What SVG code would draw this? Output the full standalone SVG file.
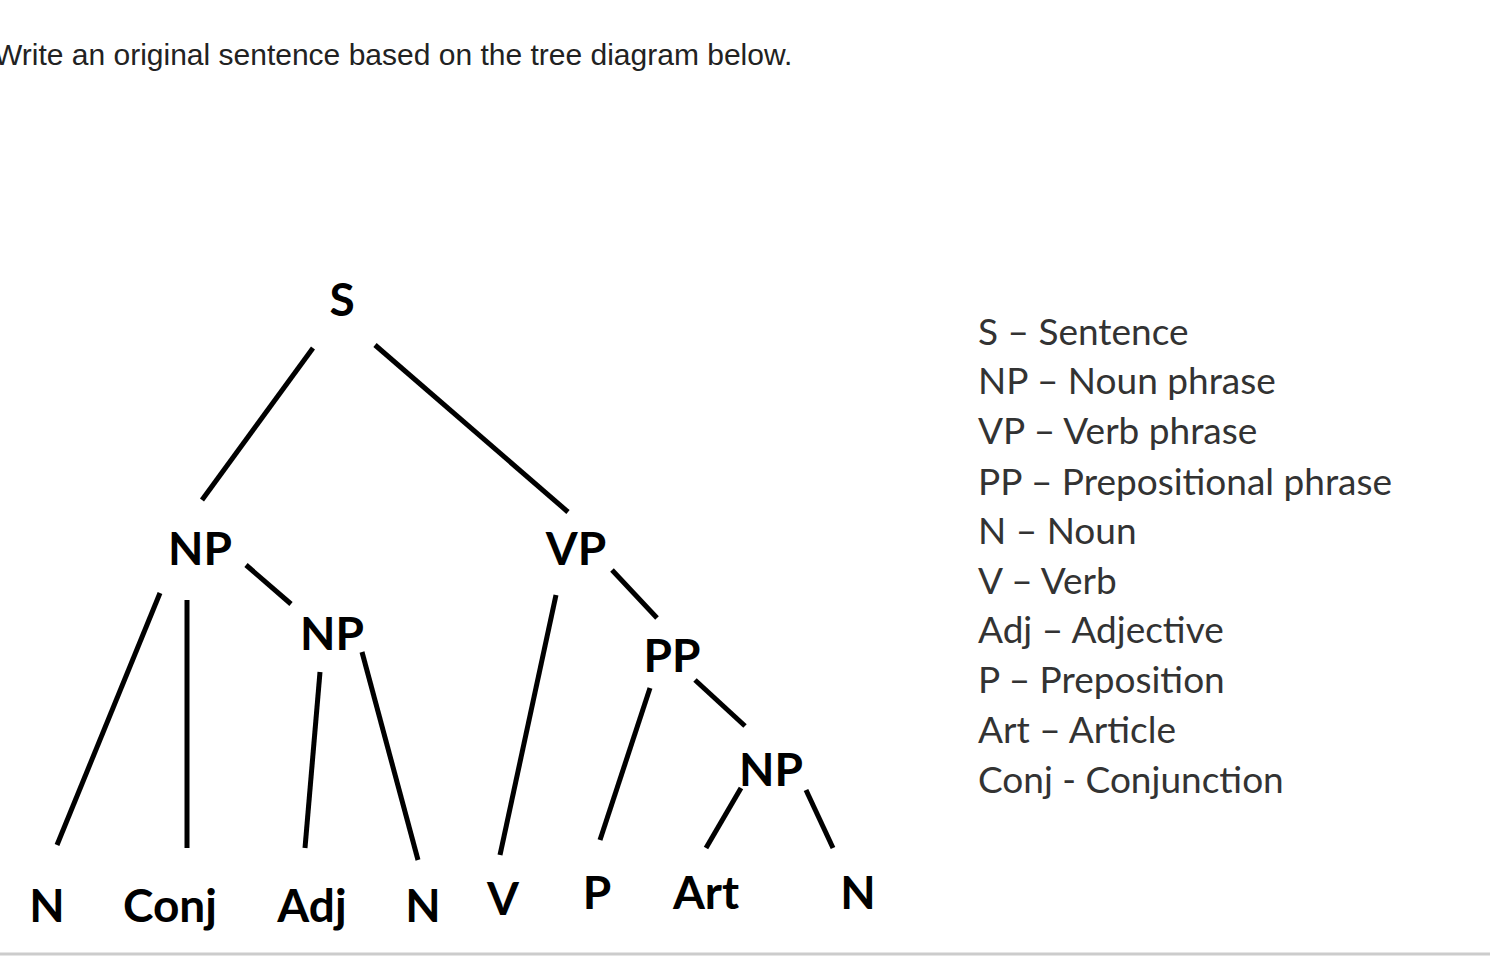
<svg xmlns="http://www.w3.org/2000/svg" width="1490" height="958" viewBox="0 0 1490 958">
<style>
.t{font-family:Lato,"Liberation Sans",sans-serif;font-weight:bold;font-size:46px;fill:#000;text-anchor:middle}
.l{font-family:Lato,"Liberation Sans",sans-serif;font-size:37px;fill:#333}
.e line{stroke:#000;stroke-width:5;stroke-linecap:butt}
</style>
<rect width="1490" height="958" fill="#fff"/>
<text x="-6" y="65" font-family="Liberation Sans,Arial,sans-serif" font-size="30" fill="#222">Write an original sentence based on the tree diagram below.</text>
<g class="e" id="connectors">
<line x1="313" y1="348" x2="202" y2="500"/>
<line x1="375" y1="345" x2="568" y2="512"/>
<line x1="160" y1="593" x2="57" y2="845"/>
<line x1="187" y1="600" x2="187" y2="848"/>
<line x1="246" y1="565" x2="291" y2="604"/>
<line x1="320" y1="672" x2="305" y2="848"/>
<line x1="362" y1="652" x2="418" y2="860"/>
<line x1="556" y1="595" x2="500" y2="855"/>
<line x1="612" y1="570" x2="657" y2="618"/>
<line x1="650" y1="688" x2="600" y2="840"/>
<line x1="695" y1="680" x2="745" y2="726"/>
<line x1="741" y1="788" x2="706" y2="848"/>
<line x1="806" y1="790" x2="833" y2="848"/>
</g>
<g id="S"><text class="t" x="342" y="316">S</text></g>
<g id="NP1"><text class="t" x="200" y="565">NP</text></g>
<g id="VP"><text class="t" x="576" y="565">VP</text></g>
<g id="NP2"><text class="t" x="332" y="650">NP</text></g>
<g id="PP"><text class="t" x="672" y="672">PP</text></g>
<g id="NP3"><text class="t" x="771" y="786">NP</text></g>
<g id="N1"><text class="t" x="47" y="922">N</text></g>
<g id="Conj"><text class="t" x="170" y="922">Conj</text></g>
<g id="Adj"><text class="t" x="312" y="922">Adj</text></g>
<g id="N2"><text class="t" x="423" y="922">N</text></g>
<g id="V"><text class="t" x="503" y="915">V</text></g>
<g id="P"><text class="t" x="597" y="909">P</text></g>
<g id="Art"><text class="t" x="706" y="909">Art</text></g>
<g id="N3"><text class="t" x="858" y="909">N</text></g>
<g id="legend">
<text class="l" x="978" y="345">S – Sentence</text>
<text class="l" x="978" y="394">NP – Noun phrase</text>
<text class="l" x="978" y="444">VP – Verb phrase</text>
<text class="l" x="978" y="495">PP – Prepositional phrase</text>
<text class="l" x="978" y="544">N – Noun</text>
<text class="l" x="978" y="594">V – Verb</text>
<text class="l" x="978" y="643">Adj – Adjective</text>
<text class="l" x="978" y="693">P – Preposition</text>
<text class="l" x="978" y="743">Art – Article</text>
<text class="l" x="978" y="793">Conj - Conjunction</text>
</g>
<line x1="0" y1="954" x2="1490" y2="954" stroke="#ccc" stroke-width="3"/>
</svg>
